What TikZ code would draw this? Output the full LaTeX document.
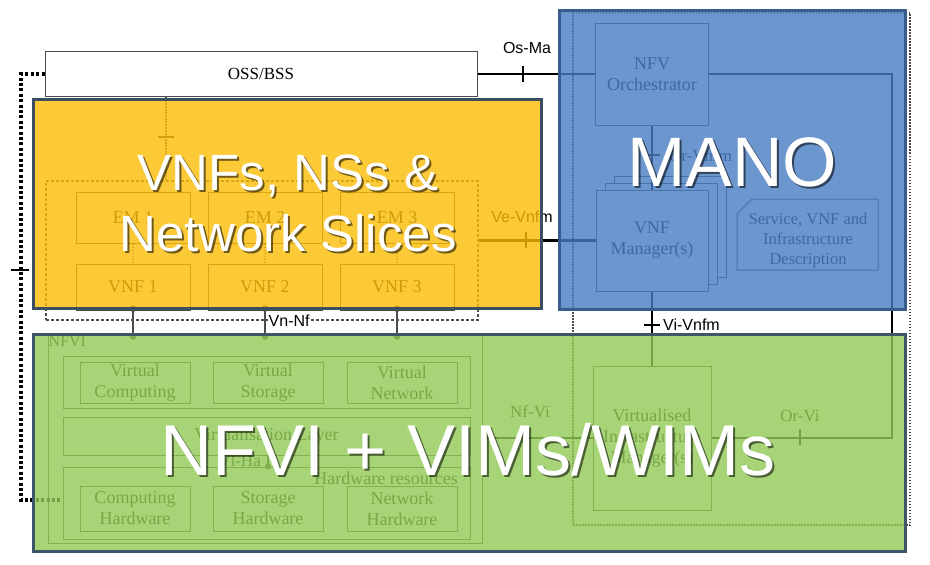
\documentclass[tikz,border=0pt]{standalone}
\usepackage{fontspec}
\setmainfont{Liberation Serif}
\newfontfamily\lsans{Liberation Sans}
\definecolor{ovY}{RGB}{252,188,6}
\definecolor{ovB}{RGB}{71,124,194}
\definecolor{ovG}{RGB}{146,202,84}
\definecolor{edgeY}{RGB}{60,78,98}
\definecolor{edgeB}{RGB}{58,92,140}
\definecolor{edgeG}{RGB}{62,86,104}
\begin{document}
\begin{tikzpicture}[x=1pt,y=-1pt,
  box/.style={draw=black!70, line width=1pt, fill=white, inner sep=0pt, align=center,
    font=\fontsize{18}{21}\selectfont, text=black!90},
  grp/.style={draw=black!70, line width=1pt, inner sep=0pt},
  ref/.style={line width=2.6pt, black},
  tk/.style={line width=1.4pt, black},
  sl/.style={font=\lsans\fontsize{16}{18}\selectfont, inner sep=1pt},
  rl/.style={font=\fontsize{17}{19}\selectfont, inner sep=1pt, text=black!90},
  dotline/.style={line width=3.2pt, dash pattern=on 3pt off 2.4pt},
  dashg/.style={draw=black!70, line width=1.1pt, dash pattern=on 3pt off 2pt},
  dotg/.style={draw=black!70, line width=1.1pt, dash pattern=on 1.5pt off 1.5pt},
  ovl/.style={line width=3pt, fill opacity=0.8, draw opacity=1},
  big/.style={font=\lsans, align=center, inner sep=0pt, text=white},
  bigsh/.style={font=\lsans, align=center, inner sep=0pt, text=black, text opacity=0.55}
]
\useasboundingbox (0,0) rectangle (930,565);
\fill[white] (0,0) rectangle (930,565);

% ---------- underlying NFV architecture ----------
\node[box, minimum width=432pt, minimum height=45pt, font=\fontsize{17}{20}\selectfont, text=black] (oss) at (261,74) {OSS/BSS};

\node[grp, dashg, minimum width=432pt, minimum height=139pt] (vnfarea) at (262,250.5) {};
\node[box, minimum width=114pt, minimum height=51pt] (em1) at (133,217.5) {EM 1};
\node[box, minimum width=114pt, minimum height=51pt] (em2) at (265,217.5) {EM 2};
\node[box, minimum width=114pt, minimum height=51pt] (em3) at (397,217.5) {EM 3};
\node[box, minimum width=114pt, minimum height=46pt] (vnf1) at (133,287) {VNF 1};
\node[box, minimum width=114pt, minimum height=46pt] (vnf2) at (265,287) {VNF 2};
\node[box, minimum width=114pt, minimum height=46pt] (vnf3) at (397,287) {VNF 3};
\foreach \i in {1,2,3} {\draw[dotg] (em\i.south) -- (vnf\i.north);}

% NFVI
\node[grp, minimum width=434pt, minimum height=208pt] (nfvi) at (265,439) {};
\node[anchor=north west, font=\fontsize{16}{18}\selectfont, text=black!90, inner sep=1pt] (nfvilbl) at (nfvi.north west) {NFVI};
\node[grp, minimum width=407pt, minimum height=52pt] (vrow) at (266.5,382) {};
\node[box, minimum width=110pt, minimum height=41pt] (vc) at (135,382.5) {Virtual\\Computing};
\node[box, minimum width=110pt, minimum height=41pt] (vs) at (268,382.5) {Virtual\\Storage};
\node[box, minimum width=110pt, minimum height=41pt] (vn) at (402,382.5) {Virtual\\Network};
\node[box, minimum width=407pt, minimum height=38pt] (vlayer) at (266.5,436) {Virtualisation Layer};
\node[grp, minimum width=407pt, minimum height=72pt] (hw) at (266.5,503) {};
\node[rl, font=\fontsize{18}{20}\selectfont, anchor=east] (hwlbl) at (459,478) {Hardware resources};
\node[box, minimum width=110pt, minimum height=45pt] (ch) at (135,508.5) {Computing\\Hardware};
\node[box, minimum width=110pt, minimum height=45pt] (sh) at (268,508.5) {Storage\\Hardware};
\node[box, minimum width=110pt, minimum height=45pt] (nh) at (402,508.5) {Network\\Hardware};
\draw[line width=1.8pt, black!80] (vlayer.south -| sh) -- (hw.north -| sh);
\fill[black!80] (hw.north -| sh) circle (3pt);
\node[rl, anchor=east] (vlha) at (262,461) {Vl-Ha};

% MANO
\node[grp, dotg, minimum width=337pt, minimum height=512pt] (manoarea) at (741.5,269) {};
\node[box, minimum width=113pt, minimum height=102pt] (nfvo) at (652,74) {NFV\\Orchestrator};
\node[box, minimum width=112pt, minimum height=101pt] (vnfm3) at (670,226.5) {};
\node[box, minimum width=112pt, minimum height=101pt] (vnfm2) at (661,233.5) {};
\node[box, minimum width=112pt, minimum height=101pt] (vnfm) at (652,240.5) {VNF\\Manager(s)};
\draw[draw=black!70, line width=1pt, fill=white] (752,199) -- (878,199) -- (878,270) -- (737,270) -- (737,214) -- cycle;
\node[align=center, font=\fontsize{16.5}{20}\selectfont, text=black!90, inner sep=0pt] (desc) at (808,241) {Service, VNF and\\Infrastructure\\Description};
\node[box, minimum width=118pt, minimum height=144pt] (vim) at (652,438) {Virtualised\\Infrastructure\\Manager(s)};

% reference points
\coordinate (ossdrop) at (166,0);
\coordinate (leftc) at (21,300);
\coordinate (orc) at (892,0);
\draw[dotline] (oss.west) -| (leftc) |- (hw.west |- 0,500);
\draw[tk] (11,270) -- (29,270);
\draw[dotg, line width=1.3pt] (oss.south -| ossdrop) -- (vnfarea.north -| ossdrop);
\draw[tk, black!80] (158,137) -- (174,137);

\draw[ref] (oss.east) -- (nfvo.west);
\draw[tk] (523,66) -- (523,82);
\node[sl] (osma) at (527,48) {Os-Ma};

\draw[ref] (nfvo.south) -- (vnfm.north);
\draw[tk] (644,155) -- (660,155);
\node[rl, anchor=west] (orvnfm) at (668,156) {Or-Vnfm};

\draw[ref] (vnfarea.east |- vnfm.west) -- (vnfm.west);
\draw[tk] (526,232) -- (526,248);
\node[sl] (vevnfm) at (522,217) {Ve-Vnfm};

\draw[ref] (vnfm.south) -- (vim.north);
\draw[tk] (644,325) -- (660,325);
\node[sl, anchor=west] (vivnfm) at (662,325) {Vi-Vnfm};

\draw[ref] (nfvi.east |- vim.west) -- (vim.west);
\draw[tk] (527,430) -- (527,446);
\node[rl] (nfvil) at (530,412) {Nf-Vi};

\draw[ref] (nfvo.east) -- (nfvo.east -| orc) |- (vim.east);
\draw[tk] (800,429) -- (800,445);
\node[rl] (orvi) at (800,416) {Or-Vi};

\foreach \i in {1,2,3} {
  \draw[line width=2.2pt, black!70] (vnf\i.south) -- (vnf\i.south |- nfvi.north);
  \fill[black!70] ([yshift=2pt]vnf\i.south) circle (3.4pt);
  \fill[black!70] ([yshift=-2pt]vnf\i.south |- nfvi.north) circle (3.4pt);
}
\node[sl, anchor=west, fill=white, inner sep=0.5pt] (vnnf) at (268,321) {Vn-Nf};

% ---------- coloured overlays ----------
\draw[ovl, draw=edgeY, fill=ovY] (33,99) rectangle (541,308);
\draw[ovl, draw=edgeB, fill=ovB] (559,10) rectangle (905,309);
\draw[ovl, draw=edgeG, fill=ovG] (33,334) rectangle (905,551);

% ---------- big titles ----------
\node[bigsh, font=\lsans\fontsize{51}{61}\selectfont] (t1s) at (290,205) {VNFs, NSs \&\\Network Slices};
\node[big, font=\lsans\fontsize{51}{61}\selectfont] (t1) at (288,203) {VNFs, NSs \&\\Network Slices};
\node[bigsh, font=\lsans\fontsize{70}{80}\selectfont] (t2s) at (734,164) {MANO};
\node[big, font=\lsans\fontsize{70}{80}\selectfont] (t2) at (732,162) {MANO};
\node[bigsh, font=\lsans\fontsize{72}{80}\selectfont] (t3s) at (470,452) {NFVI + VIMs/WIMs};
\node[big, font=\lsans\fontsize{72}{80}\selectfont] (t3) at (468,450) {NFVI + VIMs/WIMs};
\end{tikzpicture}
\end{document}
